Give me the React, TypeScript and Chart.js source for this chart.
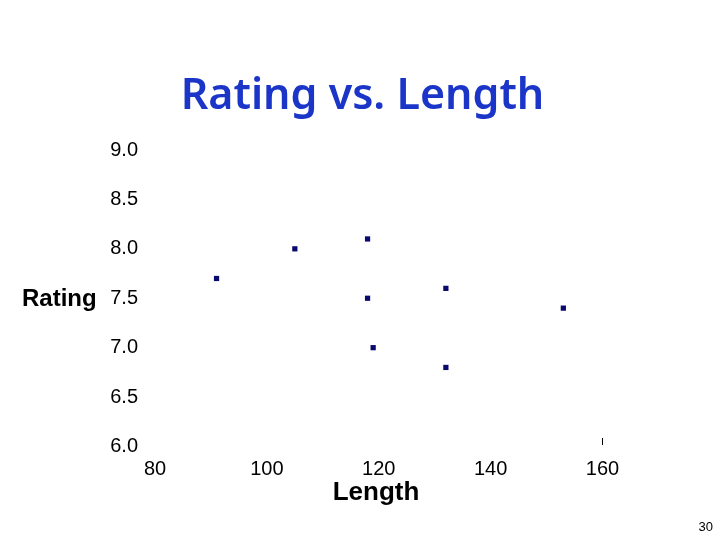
import { useEffect, useRef } from 'react'
import { Chart, registerables } from 'chart.js'

Chart.register(...registerables)

// film length (minutes) vs rating
const lengths = [91, 105, 118, 118, 119, 132, 132, 153]
const ratings = [7.7, 8.0, 8.1, 7.5, 7.0, 7.6, 6.8, 7.4]
// the lone tick-like mark at the bottom right
const strayLengths = [160]
const strayRatings = [6.05]

const xTicks = [80, 100, 120, 140, 160]
const yTicks = [6.0, 6.5, 7.0, 7.5, 8.0, 8.5, 9.0]

const tickFont = { family: "'Liberation Sans', Arial, sans-serif", size: 20 }

const App = () => {
  const chartRef = useRef<HTMLCanvasElement>(null)
  const chartInstance = useRef<Chart | null>(null)

  useEffect(() => {
    if (!chartRef.current) return
    if (chartInstance.current) chartInstance.current.destroy()
    chartInstance.current = new Chart(chartRef.current, {
      type: 'scatter',
      data: {
        datasets: [
          {
            data: lengths.map((x, i) => ({ x, y: ratings[i] })),
            pointStyle: 'rect', pointRadius: 3.7, pointBorderWidth: 0,
            backgroundColor: '#0a0a6e', borderColor: '#0a0a6e', clip: false as any,
          },
          {
            data: strayLengths.map((x, i) => ({ x, y: strayRatings[i] })),
            pointStyle: 'line', pointRotation: 90, pointRadius: 3.5, pointBorderWidth: 1,
            backgroundColor: '#000', borderColor: '#000', clip: false as any,
          },
        ],
      },
      options: {
        responsive: false, animation: false,
        layout: { padding: { top: 150, right: 117.5, left: 0, bottom: 0 } },
        plugins: { legend: { display: false }, tooltip: { enabled: false } },
        scales: {
          x: {
            type: 'linear', min: 80, max: 160,
            afterBuildTicks: (s: any) => { s.ticks = xTicks.map((v) => ({ value: v })) },
            afterFit: (s: any) => { s.height = 93.5 },
            ticks: { font: tickFont, color: '#000', padding: 11, maxRotation: 0 },
            grid: { display: false, drawTicks: false }, border: { display: false },
          },
          y: {
            type: 'linear', min: 6, max: 9,
            afterBuildTicks: (s: any) => { s.ticks = yTicks.map((v) => ({ value: v })) },
            afterFit: (s: any) => { s.width = 155 },
            ticks: { font: tickFont, color: '#000', padding: 17, callback: (v) => Number(v).toFixed(1) },
            grid: { display: false, drawTicks: false }, border: { display: false },
          },
        },
      },
    })
    return () => { chartInstance.current?.destroy() }
  }, [])

  return (
    <div style={{ position:'absolute', left:0, top:0, width:720, height:540, background:'#FFFFFF', overflow:'hidden' }}>
      <canvas ref={chartRef} width={720} height={540} style={{ position:'absolute', left:0, top:0 }} />
      <div style={{ position:'absolute', left:0, width:720, top:67, textAlign:'center', fontFamily:"'Comic Sans MS', 'Noto Sans', sans-serif", fontSize:43, fontWeight:600, color:'#1a35c8', lineHeight:1.2, paddingLeft:5, boxSizing:'border-box' }}>
        Rating vs. Length
      </div>
      <div style={{ position:'absolute', left:22, top:285.5, fontFamily:"'Liberation Sans', Arial, sans-serif", fontSize:24, fontWeight:700, color:'#000', lineHeight:1 }}>
        Rating
      </div>
      <div style={{ position:'absolute', left:276, width:200, top:478, textAlign:'center', fontFamily:"'Liberation Sans', Arial, sans-serif", fontSize:26, fontWeight:700, color:'#000', lineHeight:1 }}>
        Length
      </div>
      <div style={{ position:'absolute', right:7, top:520, fontFamily:"'Liberation Sans Narrow', 'Liberation Sans', Arial, sans-serif", fontSize:13, color:'#000', lineHeight:1 }}>
        30
      </div>
    </div>
  )
}

export default App
